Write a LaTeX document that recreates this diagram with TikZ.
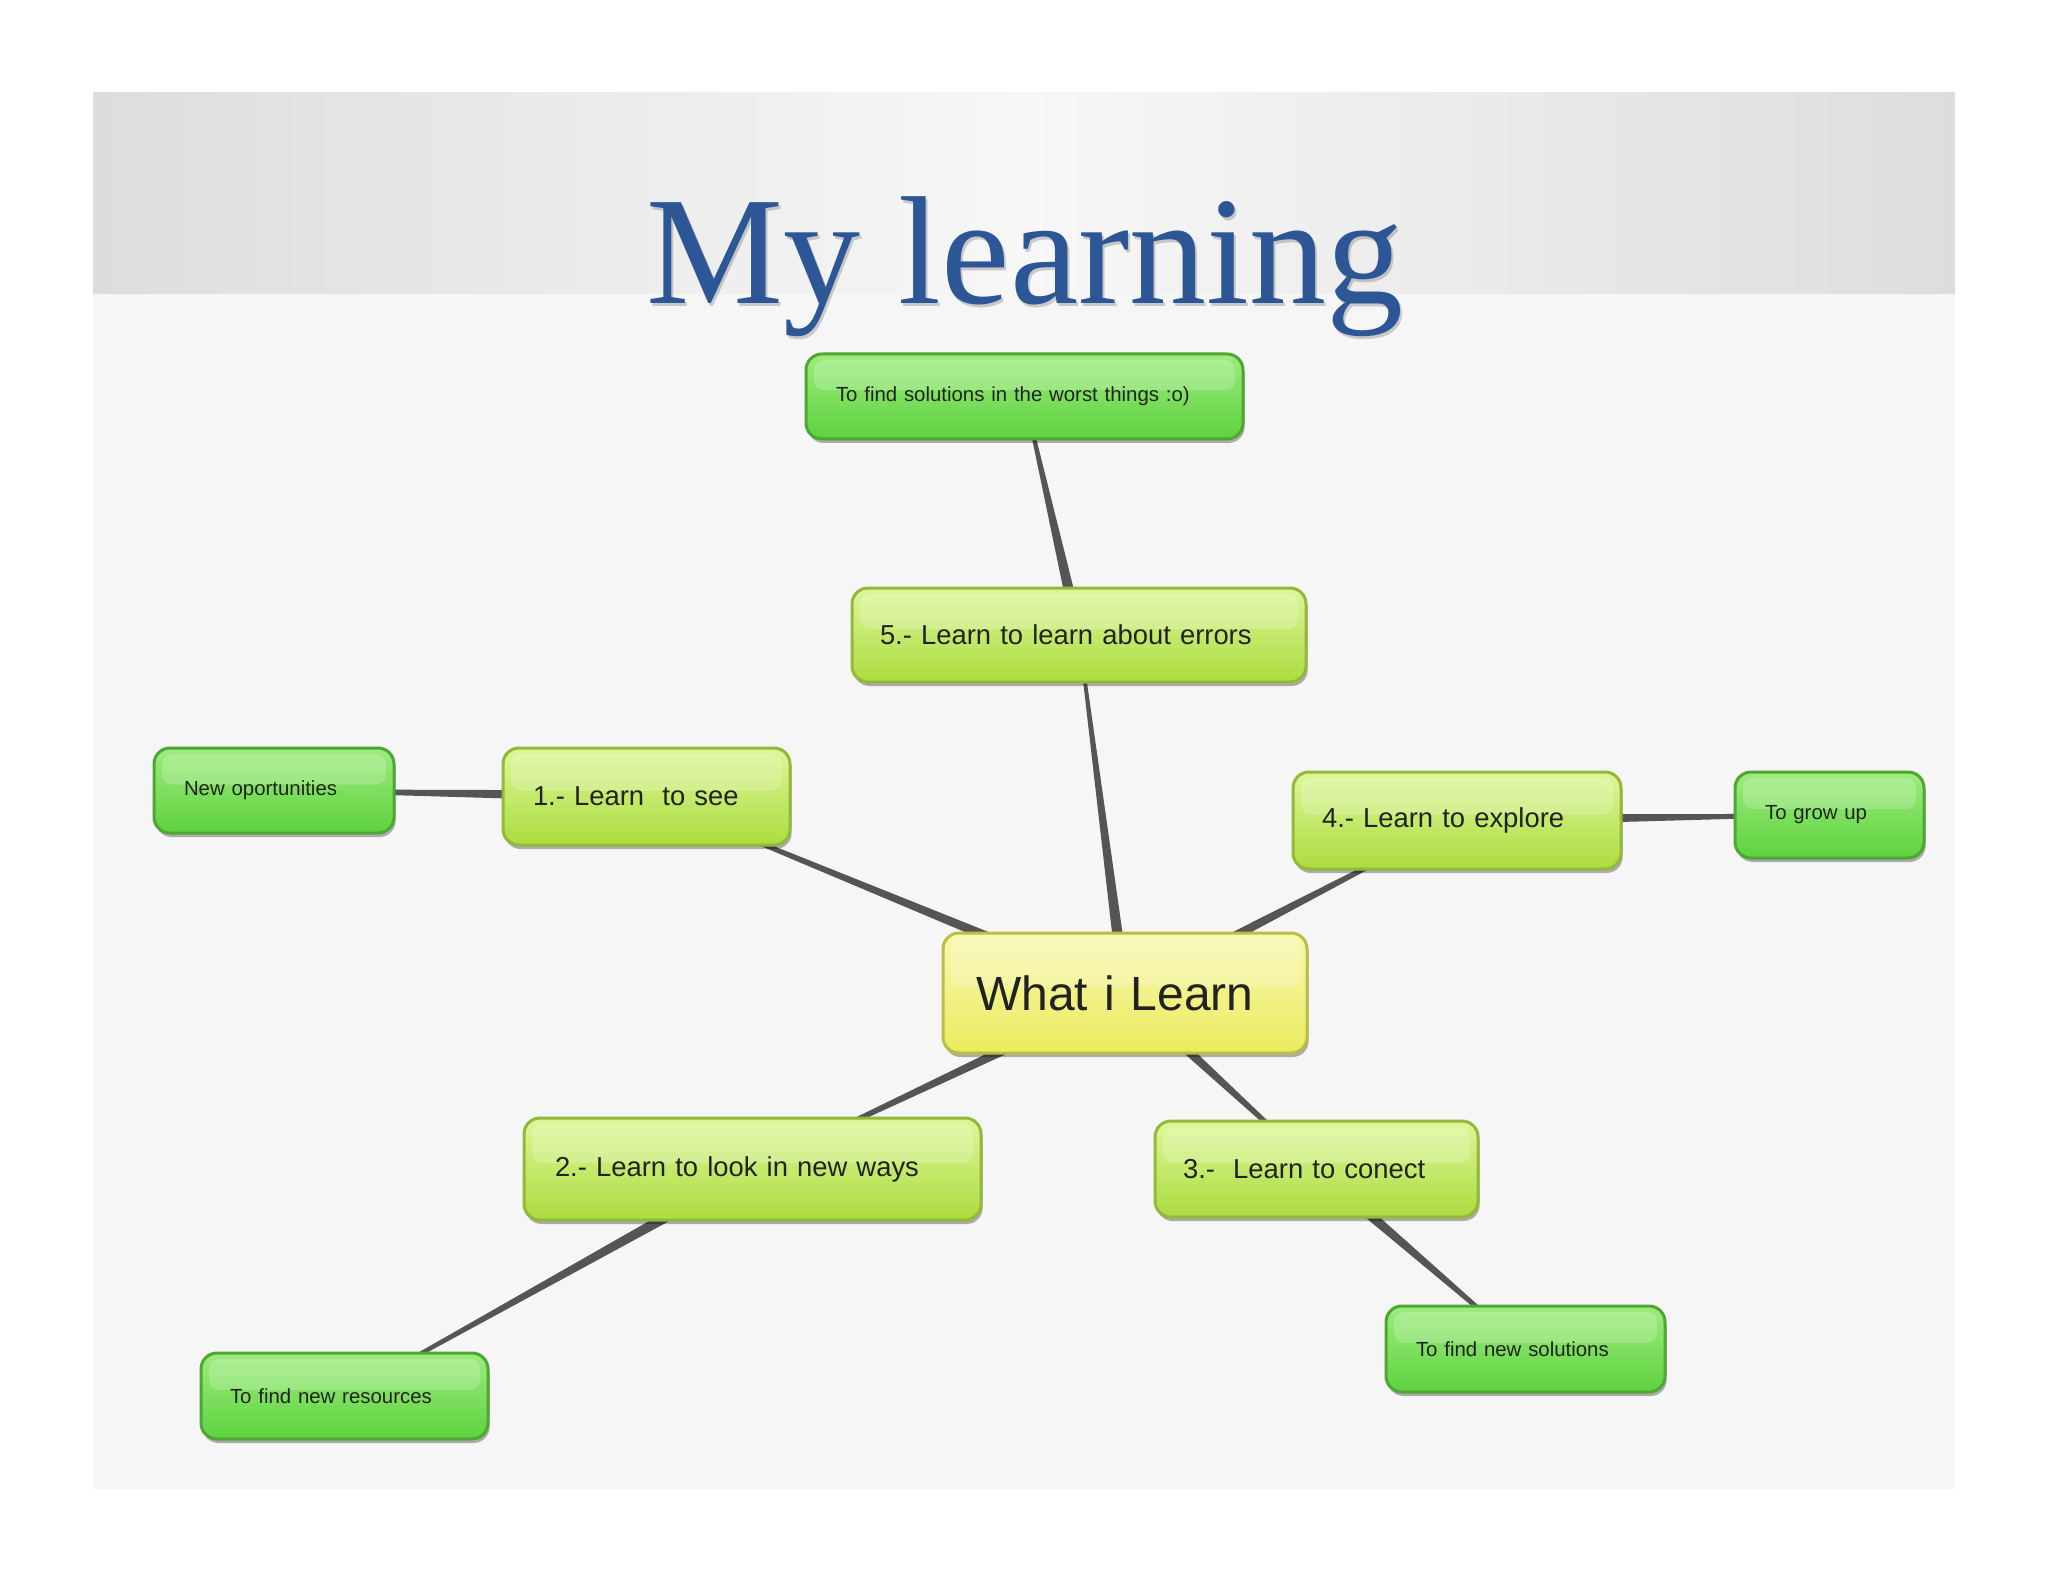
\documentclass[tikz,border=0pt]{standalone}
\usepackage{fontspec}
\setmainfont{Liberation Serif}
\newfontfamily\nodefont{Liberation Sans}
\usetikzlibrary{calc,shadows}
\pgfdeclarelayer{back}
\pgfdeclarelayer{lines}
\pgfsetlayers{back,lines,main}
\definecolor{titleblue}{HTML}{2D5696}
\definecolor{slidebg}{HTML}{F6F6F6}
\definecolor{bandgray}{HTML}{DDDDDD}
\definecolor{bandlight}{HTML}{F7F7F7}
\definecolor{leaftop}{HTML}{9DEC7E}
\definecolor{leafbot}{HTML}{5ED23E}
\definecolor{leafborder}{HTML}{4FA634}
\definecolor{lonetop}{HTML}{DDF79A}
\definecolor{lonebot}{HTML}{ABDC3E}
\definecolor{loneborder}{HTML}{93B83A}
\definecolor{ctop}{HTML}{F8F8B2}
\definecolor{cbot}{HTML}{EBEB5E}
\definecolor{cborder}{HTML}{BCBC4A}
\definecolor{linecol}{HTML}{555555}
\definecolor{nodetext}{HTML}{222222}
\newcommand\taperline[2]{\fill[linecol] ($(#1)!3pt!90:(#2)$) -- ($(#1)!3pt!-90:(#2)$) -- ($(#2)!0.6pt!90:(#1)$) -- ($(#2)!0.6pt!-90:(#1)$) -- cycle;}
\tikzset{
  box/.style={rectangle, rounded corners=8pt, line width=1.5pt, inner ysep=0pt, align=left,
    text=nodetext,
    drop shadow={shadow xshift=0.8pt, shadow yshift=-2pt, opacity=0.3, fill=black},
    path picture={\fill[white,opacity=0.2,rounded corners=5pt]
      ($(path picture bounding box.north west)+(4pt,-3pt)$) rectangle
      ($(path picture bounding box.east)+(-4pt,3pt)$);}},
  leaf/.style={box, draw=leafborder, top color=leaftop, bottom color=leafbot,
    font=\nodefont\fontsize{10.2}{12}\selectfont},
  lone/.style={box, draw=loneborder, top color=lonetop, bottom color=lonebot,
    font=\nodefont\fontsize{13.7}{16}\selectfont},
  core/.style={box, draw=cborder, top color=ctop, bottom color=cbot,
    font=\nodefont\fontsize{24}{28}\selectfont},
  sz/.style n args={4}{minimum width=#1pt, minimum height=#2pt, inner xsep=#3pt, text width=#4pt},
}
\begin{document}
\begin{tikzpicture}[x=0.5pt,y=-0.5pt]
\useasboundingbox (0,0) rectangle (2048,1582);
\begin{pgfonlayer}{back}
  \fill[white] (0,0) rectangle (2048,1582);
  \fill[slidebg] (93,93) rectangle (1955,1489);
  \shade[left color=bandgray, right color=bandgray, middle color=bandlight] (93,93) rectangle (1955,294);
\end{pgfonlayer}

\node[anchor=base, font=\fontsize{77}{80}\selectfont, text=black, opacity=0.18] (titleshadow) at (1027,307) {My learning};
\node[anchor=base, font=\fontsize{77}{80}\selectfont, text=titleblue] (title) at (1025,304) {My learning};

\node[leaf, sz={218.5}{42.5}{15}{188.5}] (worst) at (1024.5,396.5) {To find solutions in the worst things :o)};
\node[lone, sz={227}{47}{14}{199}] (five) at (1079,635) {5.- Learn to learn about errors};
\node[leaf, sz={120}{42.5}{15}{90}] (opp) at (274,790.5) {New oportunities};
\node[lone, sz={143.5}{48.5}{15}{113.5}] (one) at (646.5,796.5) {1.- Learn\ \ to see};
\node[lone, sz={164}{48.5}{14.5}{135}] (four) at (1457,820.5) {4.- Learn to explore};
\node[leaf, sz={94.5}{43}{15}{64.5}] (grow) at (1829.5,815) {To grow up};
\node[core, sz={182}{60}{16.5}{149}] (what) at (1125,993) {What i Learn};
\node[lone, sz={228.5}{51}{15.5}{197.5}] (two) at (752.5,1169) {2.- Learn to look in new ways};
\node[lone, sz={161.5}{48}{14}{133.5}] (three) at (1316.5,1169) {3.-\ \ Learn to conect};
\node[leaf, sz={139.5}{43}{15}{109.5}] (sol) at (1525.5,1349) {To find new solutions};
\node[leaf, sz={143.5}{43}{14.5}{114.5}] (res) at (344.5,1396) {To find new resources};

\begin{pgfonlayer}{lines}
  \taperline{what}{one}
  \taperline{what}{two}
  \taperline{what}{three}
  \taperline{what}{four}
  \taperline{what}{five}
  \taperline{five}{worst}
  \taperline{one}{opp}
  \taperline{four}{grow}
  \taperline{two}{res}
  \taperline{three}{sol}
\end{pgfonlayer}
\end{tikzpicture}
\end{document}
